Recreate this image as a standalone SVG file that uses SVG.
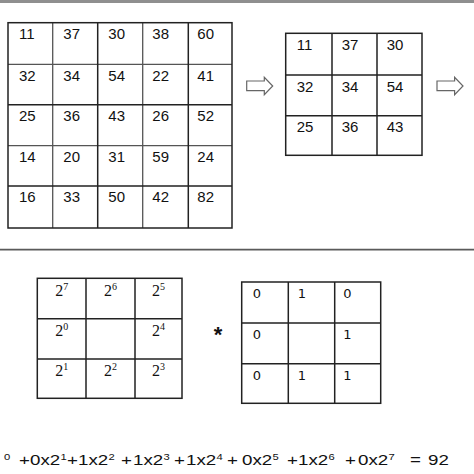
<svg xmlns="http://www.w3.org/2000/svg" width="474" height="474" viewBox="0 0 474 474">
<style>
.g{fill:none;stroke:#222;stroke-width:1.5}
.gl{fill:none;stroke:#555;stroke-width:1.3}
.n{font-family:"Liberation Sans",Arial,sans-serif;font-size:15px;fill:#111}
.p{font-family:"Liberation Serif","Times New Roman",serif;font-size:16px;fill:#111}
.s{font-size:10px}
.t{font-size:9px}
.v{font-family:"DejaVu Sans",Verdana,sans-serif;font-size:13px;fill:#111}
.arr{fill:#fff;stroke:#666;stroke-width:1.2}
.f{font-family:"Liberation Sans",Arial,sans-serif;font-size:15px;fill:#111}
</style>
<rect x="0" y="0" width="474" height="474" fill="#fff"/>
<rect x="0" y="0" width="474" height="3" fill="#8f8f8f"/>
<line x1="0" y1="249.6" x2="474" y2="249.6" stroke="#5a5a5a" stroke-width="1.6"/>

<g id="grid-5x5">
<path class="gl" d="M52.7,22.7V228M142.7,22.7V228M8,64.3H232M8,145.7H232"/>
<path class="g" d="M97.7,22.7V228M188.3,22.7V228M8,104.7H232M8,186H232"/>
<rect class="g" x="8" y="22.7" width="224" height="205.3"/>
<g class="n">
<text x="19" y="39">11</text><text x="63.3" y="39">37</text><text x="108.3" y="39">30</text><text x="152.3" y="39">38</text><text x="197.3" y="39">60</text>
<text x="19" y="81">32</text><text x="63.3" y="81">34</text><text x="108.3" y="81">54</text><text x="152.3" y="81">22</text><text x="197.3" y="81">41</text>
<text x="19" y="120.7">25</text><text x="63.3" y="120.7">36</text><text x="108.3" y="120.7">43</text><text x="152.3" y="120.7">26</text><text x="197.3" y="120.7">52</text>
<text x="19" y="162.3">14</text><text x="63.3" y="162.3">20</text><text x="108.3" y="162.3">31</text><text x="152.3" y="162.3">59</text><text x="197.3" y="162.3">24</text>
<text x="19" y="202.3">16</text><text x="63.3" y="202.3">33</text><text x="108.3" y="202.3">50</text><text x="152.3" y="202.3">42</text><text x="197.3" y="202.3">82</text>
</g>
</g>

<g id="arrows">
<path class="arr" d="M246.7,81H264.3V77.3L272.7,86L264.3,94.7V90.7H246.7Z"/>
<path class="arr" d="M437,81H454.6V77.3L463,86L454.6,94.7V90.7H437Z"/>
</g>

<g id="grid-3x3">
<path class="g" d="M332,33.3V155.3M377,33.3V155.3M285.7,75H422M285.7,115.7H422"/>
<rect class="g" x="285.7" y="33.3" width="136.3" height="122"/>
<g class="n">
<text x="296.7" y="50">11</text><text x="341.7" y="50">37</text><text x="386.7" y="50">30</text>
<text x="296.7" y="91.7">32</text><text x="341.7" y="91.7">34</text><text x="386.7" y="91.7">54</text>
<text x="296.7" y="131.7">25</text><text x="341.7" y="131.7">36</text><text x="386.7" y="131.7">43</text>
</g>
</g>

<g id="weights">
<path class="g" d="M86,278.3V398.3M135,278.3V398.3M37.3,318.7H182M37.3,359H182"/>
<rect class="g" x="37.3" y="278.3" width="144.7" height="120"/>
<g class="p" text-anchor="middle">
<text x="61.7" y="296">2<tspan class="s" dy="-6">7</tspan></text>
<text x="110.5" y="296">2<tspan class="s" dy="-6">6</tspan></text>
<text x="158.5" y="296">2<tspan class="s" dy="-6">5</tspan></text>
<text x="61.7" y="335.7">2<tspan class="s" dy="-6">0</tspan></text>
<text x="158.5" y="335.7">2<tspan class="s" dy="-6">4</tspan></text>
<text x="61.7" y="376">2<tspan class="s" dy="-6">1</tspan></text>
<text x="110.5" y="376">2<tspan class="s" dy="-6">2</tspan></text>
<text x="158.5" y="376">2<tspan class="s" dy="-6">3</tspan></text>
</g>
</g>

<g id="star">
<text x="218" y="342" text-anchor="middle" font-family="Liberation Sans, Arial, sans-serif" font-size="22" font-weight="bold" fill="#111">*</text>
</g>

<g id="binary">
<path class="g" d="M288.3,282V403.3M334.7,282V403.3M241.7,323H380.7M241.7,363.7H380.7"/>
<rect class="g" x="241.7" y="282" width="139" height="121.3"/>
<g class="v">
<text x="252.7" y="298.3">0</text><text x="297.7" y="298.3">1</text><text x="343.3" y="298.3">0</text>
<text x="252.7" y="339.3">0</text><text x="343.3" y="339.3">1</text>
<text x="252.7" y="380">0</text><text x="297.7" y="380">1</text><text x="343.3" y="380">1</text>
</g>
</g>

<g id="formula">
<text class="f" transform="scale(1.25,1)"><tspan x="3.2" y="460" class="t">0</tspan><tspan x="15.2" y="465.5">+</tspan><tspan x="24" y="465.5">0x2</tspan><tspan x="48.4" y="460" class="t">1</tspan><tspan x="53.6" y="465.5">+</tspan><tspan x="62.4" y="465.5">1x2</tspan><tspan x="86.8" y="460" class="t">2</tspan><tspan x="96.8" y="465.5">+</tspan><tspan x="106.4" y="465.5">1x2</tspan><tspan x="130.8" y="460" class="t">3</tspan><tspan x="139.2" y="465.5">+</tspan><tspan x="148.8" y="465.5">1x2</tspan><tspan x="173.2" y="460" class="t">4</tspan><tspan x="181.6" y="465.5">+</tspan><tspan x="193.6" y="465.5">0x2</tspan><tspan x="218" y="460" class="t">5</tspan><tspan x="229.6" y="465.5">+</tspan><tspan x="238.4" y="465.5">1x2</tspan><tspan x="262.8" y="460" class="t">6</tspan><tspan x="276" y="465.5">+</tspan><tspan x="286.4" y="465.5">0x2</tspan><tspan x="310.8" y="460" class="t">7</tspan><tspan x="328" y="465.5">=</tspan><tspan x="342.4" y="465.5">92</tspan></text>
</g>
</svg>
